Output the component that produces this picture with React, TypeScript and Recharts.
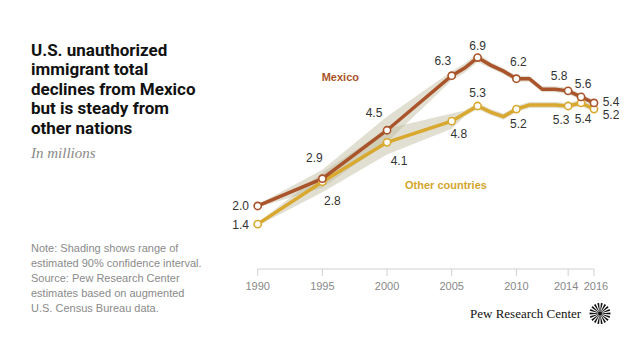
import React from 'react';
import { ComposedChart, Line, Area, XAxis, YAxis, LabelList } from 'recharts';

const years = [1990, 1995, 2000, 2005, 2006, 2007, 2008, 2009, 2010, 2011, 2012, 2013, 2014, 2015, 2016];
const mexico = [2.0, 2.9, 4.5, 6.3, 6.55, 6.9, 6.65, 6.45, 6.2, 6.2, 5.85, 5.85, 5.8, 5.6, 5.4];
const mexicoLow = [1.95, 2.6, 4.1, 6.15, 6.4, 6.75, 6.55, 6.35, 6.1, 6.1, 5.75, 5.75, 5.7, 5.5, 5.3];
const mexicoHigh = [2.05, 3.2, 4.95, 6.45, 6.7, 7.05, 6.75, 6.55, 6.3, 6.3, 5.95, 5.95, 5.9, 5.7, 5.5];
const other = [1.4, 2.8, 4.1, 4.8, 5.05, 5.3, 5.1, 4.95, 5.2, 5.33, 5.33, 5.33, 5.3, 5.4, 5.2];
const otherLow = [1.35, 2.45, 3.7, 4.55, 4.95, 5.2, 5.0, 4.85, 5.1, 5.23, 5.23, 5.23, 5.2, 5.3, 5.1];
const otherHigh = [1.45, 3.1, 4.55, 5.05, 5.15, 5.4, 5.2, 5.05, 5.3, 5.43, 5.43, 5.43, 5.4, 5.5, 5.3];
const labeledYears = [1990, 1995, 2000, 2005, 2007, 2010, 2014, 2015, 2016];
const xTicks = [1990, 1995, 2000, 2005, 2010, 2014, 2016];

const titleLines = ['U.S. unauthorized', 'immigrant total', 'declines from Mexico', 'but is steady from', 'other nations'];
const subtitle = 'In millions';
const noteLines = [
  'Note: Shading shows range of',
  'estimated 90% confidence interval.',
  'Source: Pew Research Center',
  'estimates based on augmented',
  'U.S. Census Bureau data.',
];

const data = years.map((y, i) => ({
  year: y,
  mexico: mexico[i],
  mexicoBand: [mexicoLow[i], mexicoHigh[i]],
  other: other[i],
  otherBand: [otherLow[i], otherHigh[i]],
}));

const MEX = '#a9542a';
const OTH = '#d9a82e';

// label offsets (dx, dy) relative to each marked point
const mexOffsets: Record<number, [number, number]> = {
  1990: [-17, 0], 1995: [-8, -21], 2000: [-13, -17], 2005: [-9, -15], 2007: [0, -12],
  2010: [2, -17], 2014: [-9, -15], 2015: [2, -13], 2016: [17, -1],
};
const othOffsets: Record<number, [number, number]> = {
  1990: [-17, 1], 1995: [10, 19], 2000: [12, 19], 2005: [7, 13], 2007: [0, -13],
  2010: [2, 15], 2014: [-7, 14], 2015: [2, 16], 2016: [17, 6],
};
const tickShift: Record<number, number> = { 2014: -2, 2016: 2 };

const makeDot = (color: string) => (props: any) => {
  const { cx, cy, payload, index } = props;
  if (!labeledYears.includes(payload.year)) return <g key={`d${index}`} />;
  return <circle key={`d${index}`} cx={cx} cy={cy} r={3.6} fill="#fff" stroke={color} strokeWidth={1.6} />;
};

const makeLabel = (offsets: Record<number, [number, number]>) => (props: any) => {
  const { x, y, value, index } = props;
  const yr = data[index].year;
  const off = offsets[yr];
  if (!off) return null;
  return (
    <text key={`l${index}`} x={x + off[0]} y={y + off[1]} textAnchor="middle" dominantBaseline="central"
      fontFamily="'Liberation Sans', Arial, sans-serif" fontSize={12} fill="#333">
      {Number(value).toFixed(1)}
    </text>
  );
};

const renderTick = (props: any) => {
  const { x, y, payload } = props;
  const s = tickShift[payload.value] || 0;
  return (
    <text x={x + s} y={y + 9} textAnchor="middle" fill="#888" fontSize={11}
      fontFamily="'Liberation Sans', Arial, sans-serif">{payload.value}</text>
  );
};

const Sunburst = () => {
  const rays = [];
  const n = 18;
  const cx = 600, cy = 313.5, R = 10.5;
  for (let i = 0; i < n; i++) {
    const a = (i / n) * Math.PI * 2;
    const w = 0.09;
    const p1 = [cx + R * Math.cos(a - w), cy + R * Math.sin(a - w)];
    const p2 = [cx + R * Math.cos(a + w), cy + R * Math.sin(a + w)];
    rays.push(<polygon key={i} points={`${cx},${cy} ${p1[0]},${p1[1]} ${p2[0]},${p2[1]}`} fill="#111" />);
  }
  return (
    <svg width={640} height={360} style={{ position: 'absolute', left: 0, top: 0, pointerEvents: 'none' }}>
      {rays}
      <circle cx={cx} cy={cy} r={2} fill="#111" />
    </svg>
  );
};

export default function App() {
  return (
    <div style={{ position: 'absolute', left: 0, top: 0, width: 640, height: 360, background: '#fff', overflow: 'hidden' }}>
      <div style={{ position: 'absolute', left: 31, top: 40.5, fontFamily: 'Roboto, sans-serif', fontWeight: 700, fontSize: 17, lineHeight: '19.6px', color: '#111' }}>
        {titleLines.map((t) => <div key={t} style={{ whiteSpace: 'nowrap' }}>{t}</div>)}
      </div>
      <div style={{ position: 'absolute', left: 31, top: 144.6, fontFamily: "'Liberation Serif', serif", fontStyle: 'italic', fontSize: 15, color: '#888', whiteSpace: 'nowrap' }}>
        {subtitle}
      </div>
      <div style={{ position: 'absolute', left: 31, top: 240.6, fontFamily: "'Liberation Sans', Arial, sans-serif", fontSize: 11, lineHeight: '15px', color: '#8a8a8a' }}>
        {noteLines.map((t) => <div key={t} style={{ whiteSpace: 'nowrap' }}>{t}</div>)}
      </div>
      <div style={{ position: 'absolute', left: 0, top: 0 }}>
        <ComposedChart width={640} height={360} data={data} margin={{ top: 39.35, right: 46, left: 257.7, bottom: 61 }}>
          <XAxis dataKey="year" type="number" domain={[1990, 2016]} ticks={xTicks} interval={0} height={30}
            axisLine={{ stroke: '#d0d0d0' }} tickLine={{ stroke: '#d0d0d0' }} tickSize={7} tickMargin={5}
            tick={renderTick} />
          <YAxis hide type="number" domain={[-0.08, 7.5]} allowDataOverflow />
          <Area type="linear" dataKey="mexicoBand" stroke="none" fill="#bdb89c" fillOpacity={0.45} isAnimationActive={false} dot={false} activeDot={false} />
          <Area type="linear" dataKey="otherBand" stroke="none" fill="#bdb89c" fillOpacity={0.45} isAnimationActive={false} dot={false} activeDot={false} />
          <Line type="linear" dataKey="other" stroke={OTH} strokeWidth={3.5} dot={makeDot(OTH)} activeDot={false} isAnimationActive={false}>
            <LabelList dataKey="other" content={makeLabel(othOffsets)} />
          </Line>
          <Line type="linear" dataKey="mexico" stroke={MEX} strokeWidth={3.5} dot={makeDot(MEX)} activeDot={false} isAnimationActive={false}>
            <LabelList dataKey="mexico" content={makeLabel(mexOffsets)} />
          </Line>
        </ComposedChart>
      </div>
      <div style={{ position: 'absolute', left: 321.7, top: 71, fontFamily: "'Liberation Sans', Arial, sans-serif", fontWeight: 700, fontSize: 11, color: MEX, whiteSpace: 'nowrap' }}>Mexico</div>
      <div style={{ position: 'absolute', left: 405, top: 179, fontFamily: "'Liberation Sans', Arial, sans-serif", fontWeight: 700, fontSize: 11, color: '#d4a52c', whiteSpace: 'nowrap' }}>Other countries</div>
      <div style={{ position: 'absolute', left: 470, top: 306, fontFamily: "'Liberation Serif', serif", fontSize: 13, color: '#111', whiteSpace: 'nowrap' }}>Pew Research Center</div>
      <Sunburst />
    </div>
  );
}
